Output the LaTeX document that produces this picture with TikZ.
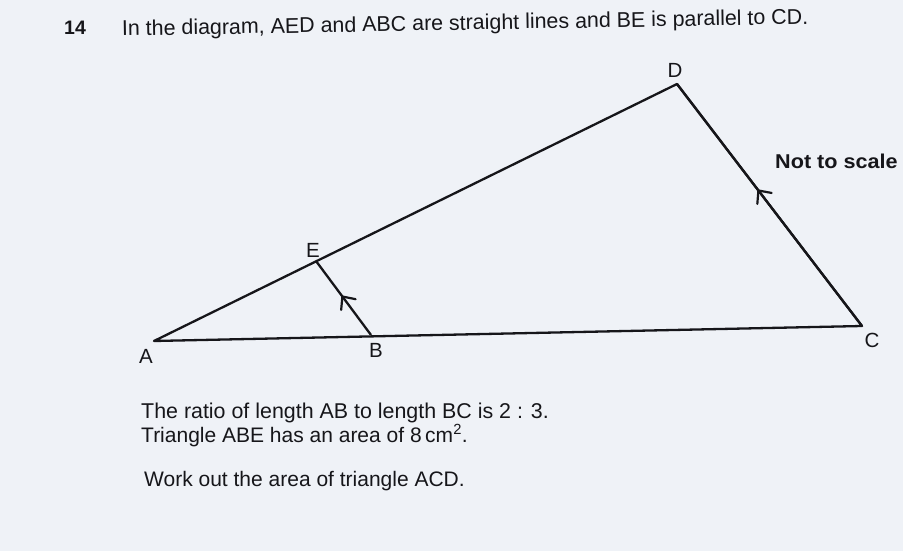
\documentclass[tikz,border=0pt]{standalone}
\usepackage{fontspec}
\setmainfont{Liberation Sans}
\usetikzlibrary{decorations.markings}
\definecolor{bg}{RGB}{239,242,247}
\definecolor{ink}{RGB}{22,22,26}
\begin{document}
\begin{tikzpicture}[x=1pt,y=-1pt,
  edge/.style={draw=ink,line width=2.3pt},
  chev/.style={postaction={decorate},decoration={markings,mark=at position #1 with {\draw[ink,line width=2.2pt,line cap=round,line join=miter] (-10pt,9pt) -- (0,0) -- (-10pt,-9pt);}}},
  lab/.style={font=\fontsize{20.5}{24}\selectfont,text=ink,inner sep=0pt},
  txt/.style={font=\fontsize{21.4}{25}\selectfont,text=ink,inner sep=0pt,anchor=base west}]
\fill[bg] (0,0) rectangle (903,551);
\useasboundingbox (0,0) rectangle (903,551);
\coordinate (A) at (154,341);
\coordinate (B) at (371,335);
\coordinate (C) at (862,326);
\coordinate (D) at (677,84);
\coordinate (E) at (316,261);
\draw[edge,line join=round] (A) -- (D) -- (C) -- cycle;
\draw[edge,chev=0.52] (B) -- (E);
\draw[edge,chev=0.56] (C) -- (D);
\node[lab] (lA) at (146,356) {A};
\node[lab] (lB) at (376,350) {B};
\node[lab] (lC) at (872,340) {C};
\node[lab] (lD) at (675,70) {D};
\node[lab] (lE) at (313,250) {E};
\node[txt,font=\fontsize{20}{24}\selectfont\bfseries,xscale=1.08] (ns) at (775,168) {Not to scale};
\node[txt,font=\fontsize{19.5}{24}\selectfont\bfseries] (n14) at (64,35) {14};
\node[txt,rotate=1] (q) at (122,36) {In the diagram, AED and ABC are straight lines and BE is parallel to CD.};
\node[txt] (t1) at (141,418) {The ratio of length AB to length BC is 2 : 3.};
\node[txt,font=\fontsize{21}{25}\selectfont] (t2) at (141,442) {Triangle ABE has an area of 8\,cm\textsuperscript{2}.};
\node[txt,font=\fontsize{21}{25}\selectfont] (t3) at (144,486) {Work out the area of triangle ACD.};
\end{tikzpicture}
\end{document}
